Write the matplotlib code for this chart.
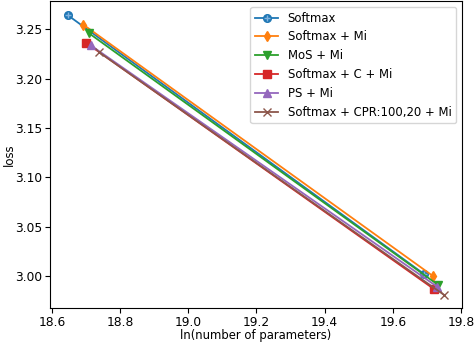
import matplotlib
matplotlib.use("Agg")
import matplotlib.pyplot as plt

labels = ["Softmax", "Softmax + Mi", "MoS + Mi", "Softmax + C + Mi", "PS + Mi",
          "Softmax + CPR:100,20 + Mi"]
x_vals = [
    [18.646, 19.692],
    [18.692, 19.718],
    [18.709, 19.733],
    [18.700, 19.720],
    [18.713, 19.731],
    [18.739, 19.750],
]
y_vals = [
    [3.2645, 3.002],
    [3.2548, 3.000],
    [3.2460, 2.991],
    [3.2364, 2.987],
    [3.2340, 2.989],
    [3.2267, 2.981],
]
markers = ["o", "d", "v", "s", "^", "x"]
colors = ["#1f77b4", "#ff7f0e", "#2ca02c", "#d62728", "#9467bd", "#8c564b"]

plt.rcParams["font.size"] = 8.6
fig = plt.figure(figsize=(4.74, 3.44), dpi=100)
ax = fig.add_axes([0.1055, 0.1047, 0.869, 0.892])

handles = []
for lab, xs, ys, m, c in zip(labels, x_vals, y_vals, markers, colors):
    h, = ax.plot(xs, ys, marker=m, color=c, label=lab, markersize=5.5, linewidth=1.3)
    if m == "o":
        h2, = ax.plot(xs, ys, marker="+", color="#7fb2e0", linestyle="none", markersize=4.5)
        handles.append((h, h2))
    else:
        handles.append(h)

ax.set_xlim(18.594, 19.803)
ax.set_ylim(2.9676, 3.2787)
ax.set_xticks([18.6, 18.8, 19.0, 19.2, 19.4, 19.6, 19.8])
ax.set_yticks([3.00, 3.05, 3.10, 3.15, 3.20, 3.25])
ax.set_yticklabels(["3.00", "3.05", "3.10", "3.15", "3.20", "3.25"])
ax.tick_params(labelsize=8.8, pad=2.0)
ax.set_xlabel("ln(number of parameters)", fontsize=8.4)
ax.set_ylabel("loss", fontsize=8.4)
ax.xaxis.set_label_coords(0.5, -0.068)
ax.yaxis.set_label_coords(-0.082, 0.5)
ax.legend(handles, labels, loc="upper right", fontsize=8.4)

fig.savefig("out.png", dpi=100)
